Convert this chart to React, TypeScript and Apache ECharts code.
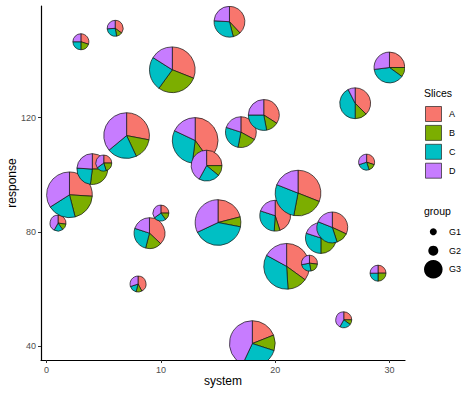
import React, { useEffect, useRef } from "react";
import * as echarts from "echarts";

// ---- data ----
const system = [1, 2, 3, 4, 5, 6, 7, 8, 9, 10, 11, 13, 14, 15, 16, 17, 18, 19, 20, 21, 22, 23, 24, 25, 26, 27, 28, 29, 30];
const response = [83.1, 93, 146.5, 102, 104.1, 151.2, 113.7, 61.8, 79.6, 86.6, 136.7, 112, 103.2, 83.3, 153.5, 114.9, 41, 120.9, 85.7, 68, 93.6, 69.1, 77.9, 81.6, 49.3, 125, 104.4, 65.6, 137.5];
const group = ["G1", "G3", "G1", "G2", "G1", "G1", "G3", "G1", "G2", "G1", "G3", "G3", "G2", "G3", "G2", "G2", "G3", "G2", "G2", "G3", "G3", "G1", "G2", "G2", "G1", "G2", "G1", "G1", "G2"];
const sliceA = [0.27, 0.26, 0.3, 0.25, 0.25, 0.35, 0.28, 0.42, 0.37, 0.25, 0.31, 0.4, 0.25, 0.21, 0.38, 0.33, 0.19, 0.34, 0.45, 0.35, 0.31, 0.27, 0.3, 0.32, 0.25, 0.375, 0.3, 0.25, 0.25];
const sliceB = [0.13, 0.2, 0.2, 0.27, 0.2, 0.12, 0.15, 0.12, 0.17, 0.15, 0.29, 0.12, 0.11, 0.07, 0.08, 0.2, 0.11, 0.13, 0.06, 0.14, 0.22, 0.2, 0.2, 0.13, 0.1, 0.125, 0.15, 0.25, 0.1];
const sliceC = [0.18, 0.2, 0.25, 0.24, 0.2, 0.27, 0.21, 0.16, 0.26, 0.25, 0.24, 0.3, 0.22, 0.4, 0.3, 0.27, 0.27, 0.28, 0.29, 0.34, 0.28, 0.25, 0.3, 0.36, 0.23, 0.425, 0.25, 0.25, 0.38];
const sliceD = [0.42, 0.34, 0.25, 0.24, 0.35, 0.26, 0.36, 0.3, 0.2, 0.35, 0.16, 0.18, 0.42, 0.32, 0.24, 0.2, 0.43, 0.25, 0.2, 0.17, 0.19, 0.28, 0.2, 0.19, 0.42, 0.075, 0.3, 0.25, 0.27];

const sliceNames = ["A", "B", "C", "D"];
const sliceColors = ["#F8766D", "#7CAE00", "#00BFC4", "#C77CFF"];
const groupNames = ["G1", "G2", "G3"];
const groupRadius = [0.7, 1.35, 2.0]; // in system (x) units
const xTicks = [0, 10, 20, 30];
const yTicks = [40, 80, 120];

const FONT = "Liberation Sans, Arial, Helvetica, sans-serif";

export default function App() {
  const ref = useRef<HTMLDivElement>(null);
  useEffect(() => {
    if (!ref.current) return;
    const chart = echarts.init(ref.current, undefined, { renderer: "svg" });
    const data = system.map((x, i) => [
      x,
      response[i],
      groupRadius[groupNames.indexOf(group[i])],
      sliceA[i],
      sliceB[i],
      sliceC[i],
      sliceD[i],
    ]);

    const legendGraphics: any[] = [];
    legendGraphics.push({
      type: "text",
      left: 424,
      top: 87,
      style: { text: "Slices", font: `10.5px ${FONT}`, fill: "#000" },
    });
    sliceNames.forEach((n, k) => {
      legendGraphics.push({
        type: "rect",
        shape: { x: 425.5, y: 106.5 + k * 18.9, width: 16, height: 15 },
        style: { fill: sliceColors[k], stroke: "#222", lineWidth: 0.7 },
      });
      legendGraphics.push({
        type: "text",
        x: 449,
        y: 114 + k * 18.9,
        style: { text: n, font: `9px ${FONT}`, fill: "#000", verticalAlign: "middle" },
      });
    });
    legendGraphics.push({
      type: "text",
      left: 424,
      top: 205,
      style: { text: "group", font: `10.5px ${FONT}`, fill: "#000" },
    });
    const gy = [231.7, 250.7, 269.3];
    const gr = [3.5, 5, 9.3];
    groupNames.forEach((n, k) => {
      legendGraphics.push({
        type: "circle",
        shape: { cx: 433.3, cy: gy[k], r: gr[k] },
        style: { fill: "#000" },
      });
      legendGraphics.push({
        type: "text",
        x: 449,
        y: gy[k],
        style: { text: n, font: `9px ${FONT}`, fill: "#000", verticalAlign: "middle" },
      });
    });

    chart.setOption({
      animation: false,
      backgroundColor: "#fff",
      grid: { left: 41, right: 69, top: 6, bottom: 35, containLabel: false, outerBoundsMode: "none" },
      xAxis: {
        type: "value",
        min: -0.49,
        max: 31.36,
        splitLine: { show: false },
        axisLine: { show: true, onZero: false, lineStyle: { color: "#000", width: 1.2 } },
        axisTick: { show: true, length: 3, customValues: xTicks, lineStyle: { color: "#333", width: 1 } },
        axisLabel: { customValues: xTicks, color: "#4d4d4d", fontSize: 9, margin: 5, fontFamily: FONT },
        name: "system",
        nameLocation: "middle",
        nameGap: 15,
        nameMoveOverlap: false,
        nameTextStyle: { color: "#000", fontSize: 12, fontFamily: FONT, verticalAlign: "top" },
      },
      yAxis: {
        type: "value",
        min: 35.25,
        max: 159,
        splitLine: { show: false },
        axisLine: { show: true, onZero: false, lineStyle: { color: "#000", width: 1.2 } },
        axisTick: { show: true, length: 3, customValues: yTicks, lineStyle: { color: "#333", width: 1 } },
        axisLabel: { customValues: yTicks, color: "#4d4d4d", fontSize: 9, margin: 5, fontFamily: FONT },
        name: "response",
        nameLocation: "middle",
        nameGap: 29,
        nameRotate: 90,
        nameMoveOverlap: false,
        nameTextStyle: { color: "#000", fontSize: 12, fontFamily: FONT, verticalAlign: "middle", align: "center" },
      },
      graphic: legendGraphics,
      series: [
        {
          type: "custom",
          coordinateSystem: "cartesian2d",
          clip: true,
          encode: { x: 0, y: 1 },
          data,
          renderItem: (params: any, api: any) => {
            const c = api.coord([api.value(0), api.value(1)]);
            const r = api.size([api.value(2), 0])[0];
            const vals = [api.value(3), api.value(4), api.value(5), api.value(6)];
            const total = vals.reduce((a: number, b: number) => a + b, 0);
            let cum = 0;
            const children = vals.map((v: number, k: number) => {
              const s = -Math.PI / 2 + (cum / total) * 2 * Math.PI;
              cum += v;
              const e = -Math.PI / 2 + (cum / total) * 2 * Math.PI;
              return {
                type: "sector",
                shape: { cx: c[0], cy: c[1], r, r0: 0, startAngle: s, endAngle: e, clockwise: true },
                style: { fill: sliceColors[k], stroke: "#111", lineWidth: 0.7 },
              };
            });
            return { type: "group", children };
          },
        },
      ],
    });
    return () => chart.dispose();
  }, []);
  return (
    <div
      ref={ref}
      style={{ position: "fixed", left: 0, top: 0, width: 474, height: 395, background: "#fff" }}
    />
  );
}
